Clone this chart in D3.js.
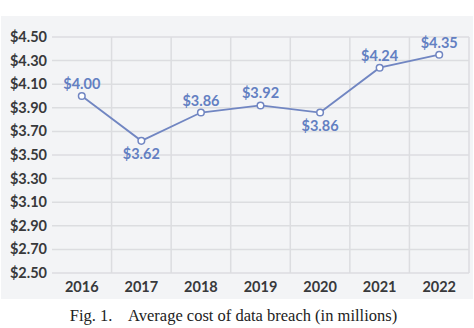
<!DOCTYPE html>
<html><head><meta charset="utf-8">
<script src="https://cdn.jsdelivr.net/npm/d3@7"></script>
<style>html,body{margin:0;padding:0;background:#fff;}svg{display:block;}</style>
</head><body>
<svg id="c" width="474" height="328"></svg>
<script>
const years = ["2016","2017","2018","2019","2020","2021","2022"];
const costs = [4.00, 3.62, 3.86, 3.92, 3.86, 4.24, 4.35];
const labelBelow = [false, true, false, false, true, false, false];
const yTicks = [2.50, 2.70, 2.90, 3.10, 3.30, 3.50, 3.70, 3.90, 4.10, 4.30, 4.50];
const caption = "Fig. 1.    Average cost of data breach (in millions)";

const svg = d3.select("#c");
const m = {left: 52, right: 469, top: 37, bottom: 273};

svg.append("rect").attr("x", 1).attr("y", 16).attr("width", 472).attr("height", 283).attr("fill", "#f3f4f6");

const x = d3.scaleBand().domain(years).range([m.left, m.right]).padding(0);
const y = d3.scaleLinear().domain([2.5, 4.5]).range([m.bottom, m.top]);

// horizontal grid
svg.append("g").selectAll("line").data(yTicks).join("line")
  .attr("x1", m.left).attr("x2", m.right)
  .attr("y1", d => y(d)).attr("y2", d => y(d))
  .attr("stroke", "#dcdde0").attr("stroke-width", 1.5);
// vertical grid
svg.append("g").selectAll("line").data(years).join("line")
  .attr("x1", d => x(d) + x.bandwidth()).attr("x2", d => x(d) + x.bandwidth())
  .attr("y1", m.top).attr("y2", m.bottom)
  .attr("stroke", "#dcdde0").attr("stroke-width", 1.5);

// y labels
svg.append("g").selectAll("text").data(yTicks).join("text")
  .attr("x", 47).attr("y", d => y(d) + 5)
  .attr("text-anchor", "end")
  .attr("font-family", "Lato, sans-serif").attr("font-weight", "bold").attr("font-size", 14.5)
  .attr("fill", "#38393b")
  .text(d => "$" + d.toFixed(2));

// x labels
svg.append("g").selectAll("text").data(years).join("text")
  .attr("x", d => x(d) + x.bandwidth() / 2).attr("y", 292)
  .attr("text-anchor", "middle")
  .attr("font-family", "Lato, sans-serif").attr("font-weight", "bold").attr("font-size", 14.5)
  .attr("fill", "#38393b")
  .text(d => d);

const px = (d, i) => x(years[i]) + x.bandwidth() / 2;
const line = d3.line().x(px).y(d => y(d));
svg.append("path").datum(costs).attr("d", line)
  .attr("fill", "none").attr("stroke", "#7186c2").attr("stroke-width", 1.8);

svg.append("g").selectAll("circle").data(costs).join("circle")
  .attr("cx", px).attr("cy", d => y(d)).attr("r", 3.3)
  .attr("fill", "#fff").attr("stroke", "#7186c2").attr("stroke-width", 1.5);

svg.append("g").selectAll("text").data(costs).join("text")
  .attr("x", px).attr("y", (d, i) => labelBelow[i] ? y(d) + 18 : y(d) - 7)
  .attr("text-anchor", "middle")
  .attr("font-family", "Lato, sans-serif").attr("font-weight", "bold").attr("font-size", 14.5)
  .attr("fill", "#6380c2")
  .text(d => "$" + d.toFixed(2));

svg.append("text").attr("x", 233.5).attr("y", 321)
  .attr("text-anchor", "middle")
  .attr("font-family", "'Liberation Serif', 'Times New Roman', serif").attr("font-size", 16.5)
  .attr("fill", "#222")
  .attr("xml:space", "preserve").style("white-space", "pre")
  .text(caption);
</script>
</body></html>
